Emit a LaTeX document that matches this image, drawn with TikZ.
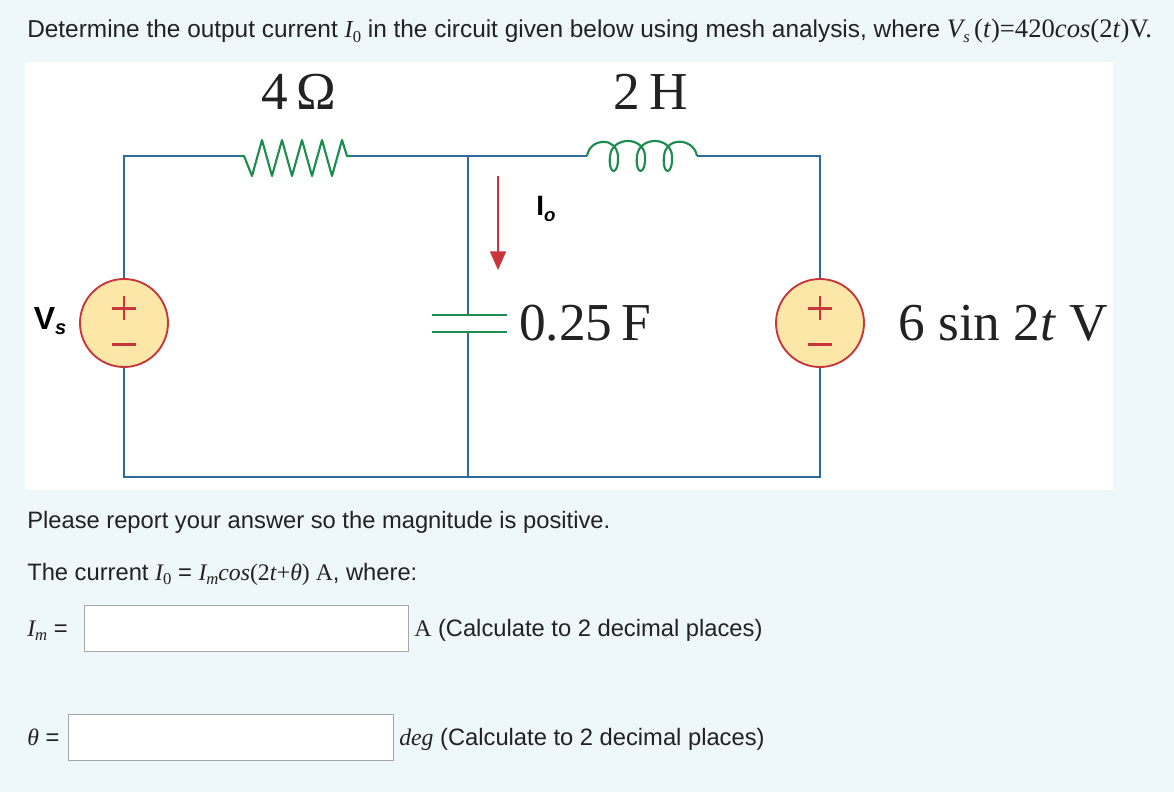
\documentclass[tikz,border=0pt]{standalone}
\usepackage{fontspec}
\setmainfont{Liberation Sans}
\newfontfamily\serif{Liberation Serif}
\usetikzlibrary{decorations.pathmorphing,arrows.meta}
\definecolor{bg}{HTML}{EEF7FA}
\definecolor{wire}{HTML}{2F6B9A}
\definecolor{comp}{HTML}{1E8C4E}
\definecolor{srcfill}{HTML}{FDE7A8}
\definecolor{srcred}{HTML}{C8353B}
\definecolor{txt}{HTML}{222222}
\tikzset{
 wirel/.style={wire,line width=1.8pt},
 compl/.style={comp,line width=1.6pt},
 src/.style={circle,draw=srcred,fill=srcfill,line width=1.4pt,minimum size=66pt,inner sep=0pt},
 body/.style={anchor=base west,font=\fontsize{17.8}{20}\selectfont,text=txt,inner sep=0pt},
 clabel/.style={font=\serif\fontsize{40}{44}\selectfont,text=txt,inner sep=0pt},
 inbox/.style={draw=gray!70,fill=white,line width=0.8pt,anchor=north west,inner sep=0pt},
}
\newcommand\sub[1]{\raisebox{-3.5pt}{\fontsize{12.5}{13}\selectfont #1}}
\begin{document}
\begin{tikzpicture}[x=0.75pt,y=-0.75pt]
\fill[bg] (0,0) rectangle (1174,792);
\useasboundingbox (0,0) rectangle (1174,792);
\fill[white] (25,62) rectangle (1113,490);
% title
\node[body,font=\fontsize{18.3}{20}\selectfont] (title) at (27,38) {Determine the output current {\serif\itshape I}{\serif\sub{0}} in the circuit given below using mesh analysis, where {\serif\fontsize{20}{20}\selectfont\itshape V\sub{s}}{\serif\fontsize{20}{20}\selectfont\,(\textit{t})=420\textit{cos}(2\textit{t})V.}};
% coordinates
\coordinate (tl) at (124,156); \coordinate (tm) at (468,156); \coordinate (tr) at (820,156);
\coordinate (bl) at (124,477); \coordinate (bm) at (468,477); \coordinate (br) at (820,477);
\coordinate (r1) at (240,156); \coordinate (r2) at (352,156);
\coordinate (l1) at (587,156); \coordinate (l2) at (697,156);
\coordinate (c1) at (468,315); \coordinate (c2) at (468,332);
\node[src] (vs) at (124,323) {};
\node[src] (v2) at (820,323) {};
\foreach \n in {vs,v2}{
 \draw[srcred,line width=1.8pt] ([xshift=-9pt,yshift=11pt]\n.center) -- ([xshift=9pt,yshift=11pt]\n.center);
 \draw[srcred,line width=1.8pt] ([yshift=2pt]\n.center) -- ([yshift=20pt]\n.center);
 \draw[srcred,line width=1.8pt] ([xshift=-9pt,yshift=-16pt]\n.center) -- ([xshift=9pt,yshift=-16pt]\n.center);
}
% wires
\draw[wirel] (vs.north) -- (tl) -- (r1);
\draw[wirel] (r2) -- (tm) -- (l1);
\draw[wirel] (l2) -- (tr) -- (v2.north);
\draw[wirel] (v2.south) -- (br) -- (bl) -- (vs.south);
\draw[wirel] (tm) -- (c1);
\draw[wirel] (c2) -- (bm);
% resistor
\draw[compl,line join=round] (r1) -- (244,156) -- (252,176) -- (262,140) -- (272,176) -- (282,140) -- (292,176) -- (302,140) -- (312,176) -- (322,140) -- (332,176) -- (342,140) -- (347,156) -- (r2);
% inductor
\draw[compl] (l1) .. controls (590,138) and (616,136) .. (618,156)
  .. controls (619,176) and (608,176) .. (610,156)
  .. controls (612,136) and (644,136) .. (645,156)
  .. controls (646,176) and (635,176) .. (637,156)
  .. controls (639,136) and (671,136) .. (672,156)
  .. controls (673,176) and (662,176) .. (664,156)
  .. controls (666,136) and (694,138) .. (l2);
% capacitor
\draw[compl] (432,315) -- (507,315);
\draw[compl] (432,332) -- (507,332);
% arrow
\coordinate (a1) at (498,176); \coordinate (a2) at (498,270);
\draw[srcred,line width=1.5pt,-{Triangle[length=14pt,width=12pt]}] (a1) -- (a2);
% labels
\node[clabel] (lr) at (299,92) {4\,Ω};
\node[clabel] (ll) at (651,92) {2\,H};
\node[clabel,anchor=west] (lc) at (519,323) {0.25\,F};
\node[clabel,anchor=west] (lv) at (898,323) {6 sin 2\textit{t} V};
\node[font=\bfseries\fontsize{21}{22}\selectfont,text=black,inner sep=0pt] (lio) at (546,209) {I\raisebox{-4pt}{\fontsize{14}{14}\selectfont\textit{o}}};
\node[font=\bfseries\fontsize{24}{24}\selectfont,text=black,inner sep=0pt] (lvs) at (50,321) {V\raisebox{-4pt}{\fontsize{15}{15}\selectfont\textit{s}}};
% body text
\node[body] (p1) at (27,528) {Please report your answer so the magnitude is positive.};
\node[body] (p2) at (27,580) {The current {\serif\itshape I}{\serif\sub{0}} = {\serif\itshape I\sub{m}}{\serif\textit{cos}(2\textit{t}+\textit{θ}) A}, where:};
\node[body] (p3) at (27,636) {{\serif\itshape I\sub{m}} =};
\node[inbox,minimum width=243pt,minimum height=34.5pt] (b1) at (84,605) {};
\node[body] (p4) at (414,636) {{\serif A} (Calculate to 2 decimal places)};
\node[body] (p5) at (27,745) {{\serif\itshape θ} =};
\node[inbox,minimum width=243.5pt,minimum height=34.5pt] (b2) at (68,714) {};
\node[body] (p6) at (399,745) {{\serif\itshape deg} (Calculate to 2 decimal places)};
\end{tikzpicture}
\end{document}
